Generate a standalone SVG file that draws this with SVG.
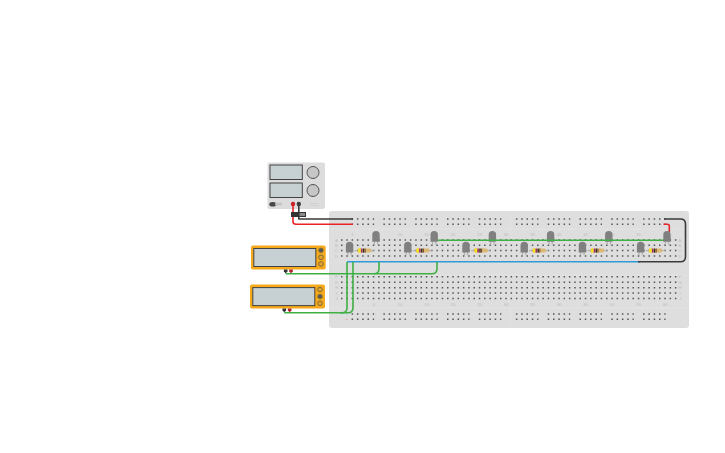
<svg xmlns="http://www.w3.org/2000/svg" width="725" height="453" viewBox="0 0 725 453">
<style>
.holes{fill:none;stroke:#555;stroke-width:1.5;stroke-dasharray:1.5 3.8}
.sep{fill:none;stroke:#e6e6e6;stroke-width:.6}
.lbl{font-family:"Liberation Sans",Arial,sans-serif;font-size:4.2px;fill:#bdbdbd;text-anchor:middle}
.wire{fill:none;stroke-width:1.6;stroke-linejoin:round}
.green{stroke:#3fb044}.black{stroke:#3a3a3a}.red{stroke:#e8232a}.blue{stroke:#2d9bd8}
.screen{fill:#c7d1d3;stroke:#434343;stroke-width:1}
.case{fill:#f6a91b}
.dial{fill:#e3a32c;stroke:#7d6a3a;stroke-width:1}
.dialk{fill:#555;stroke:#8a7436;stroke-width:1}
.knob{fill:#c6c6c6;stroke:#555;stroke-width:1}
.lead{stroke:#9a9a9a;stroke-width:.8;fill:none}
</style>
<defs>
<g id="led">
<path class="lead" d="M-1.600 10v3.500M1.600 10v3.500"/>
<path d="M-3.700 10.700V3.700a3.700 3.700 0 0 1 7.400 0V10.700z" fill="#808080"/>
</g>
<g id="res">
<path d="M-9 0H11" stroke="#a8a8a8" stroke-width=".9"/>
<rect x="-6" y="-2" width="14" height="4" rx="1.800" fill="#dcb877"/>
<rect x="-5.200" y="-2.200" width="2.300" height="4.400" fill="#f4e51c"/>
<rect x="-2.500" y="-2" width="1.400" height="4" fill="#a02a78"/>
<rect x="-.6" y="-2" width="1.400" height="4" fill="#2a2a2a"/>
<rect x="1.200" y="-2" width="1" height="4" fill="#7a4a28"/>
</g>
</defs>

<g id="breadboard">
<rect x="329" y="211" width="360" height="117" rx="3" fill="#dedede"/>
<path class="sep" d="M331 229H687M331 308H687M331 262H687M331 275H687M510.500 213V229M510.500 308V326"/>
<path class="holes" d="M351.600 219h22.500M383.400 219h22.500M415.200 219h22.500M447 219h22.500M478.800 219h22.500M515.900 219h22.500M547.700 219h22.500M579.500 219h22.500M611.300 219h22.500M643.100 219h22.500
M351.600 224.300h22.500M383.400 224.300h22.500M415.200 224.300h22.500M447 224.300h22.500M478.800 224.300h22.500M515.900 224.300h22.500M547.700 224.300h22.500M579.500 224.300h22.500M611.300 224.300h22.500M643.100 224.300h22.500
M351.600 314h22.500M383.400 314h22.500M415.200 314h22.500M447 314h22.500M478.800 314h22.500M515.900 314h22.500M547.700 314h22.500M579.500 314h22.500M611.300 314h22.500M643.100 314h22.500
M351.600 319.300h22.500M383.400 319.300h22.500M415.200 319.300h22.500M447 319.300h22.500M478.800 319.300h22.500M515.900 319.300h22.500M547.700 319.300h22.500M579.500 319.300h22.500M611.300 319.300h22.500M643.100 319.300h22.500
M341 240H677M341 245.200H677M341 250.600H677M341 256H677
M341 276.800H677M341 282.300H677M341 287.700H677M341 293H677M341 298.400H677"/>
<g class="lbl">
<text x="352.500" y="236">1</text><text x="400" y="236">10</text><text x="426.500" y="236">15</text><text x="453" y="236">20</text><text x="479.500" y="236">25</text><text x="506" y="236">30</text><text x="532.500" y="236">35</text><text x="559" y="236">40</text><text x="585.500" y="236">45</text><text x="612" y="236">50</text><text x="638.500" y="236">55</text>
<text x="352.500" y="305.500">1</text><text x="374" y="305.500">5</text><text x="400" y="305.500">10</text><text x="426.500" y="305.500">15</text><text x="453" y="305.500">20</text><text x="479.500" y="305.500">25</text><text x="506" y="305.500">30</text><text x="532.500" y="305.500">35</text><text x="559" y="305.500">40</text><text x="585.500" y="305.500">45</text><text x="612" y="305.500">50</text><text x="638.500" y="305.500">55</text><text x="665" y="305.500">60</text>
<text x="680" y="241.500">A</text><text x="680" y="246.700">B</text><text x="680" y="252.100">C</text><text x="680" y="257.500">D</text>
<text x="680" y="278.300">F</text><text x="680" y="283.800">G</text><text x="680" y="289.200">H</text><text x="680" y="294.500">I</text><text x="680" y="299.900">J</text>
<text x="336.500" y="241.500">A</text><text x="336.500" y="246.700">B</text><text x="336.500" y="252.100">C</text><text x="336.500" y="257.500">D</text>
<text x="336.500" y="278.300">F</text><text x="336.500" y="283.800">G</text><text x="336.500" y="289.200">H</text><text x="336.500" y="294.500">I</text><text x="336.500" y="299.900">J</text>
<text x="346.700" y="321" style="fill:#e5a9a9;font-size:6px">+</text>
<text x="346.700" y="315.500" style="fill:#a9c4e5;font-size:6px">-</text>
</g>
</g>

<g id="power-supply">
<rect x="267.500" y="162.500" width="57.500" height="46.500" rx="2" fill="#dcdcdc"/>
<rect class="screen" x="270" y="165" width="32.300" height="14.500"/>
<rect class="screen" x="270" y="183" width="32.300" height="14.500"/>
<circle class="knob" cx="313" cy="172.500" r="6"/>
<circle class="knob" cx="313" cy="190.500" r="6"/>
<ellipse cx="272.800" cy="204.200" rx="3.500" ry="2.300" fill="#474747"/>
<rect x="275" y="202.800" width="7" height="2.800" rx="1.400" fill="#c2c2c2"/>
<path d="M310 203.500h9M310 205.500h9" stroke="#cfcfcf" stroke-width=".8"/>
<circle cx="293" cy="204" r="2.200" fill="#c8202a"/>
<circle cx="298.800" cy="204" r="2.200" fill="#3c3c3c"/>
</g>

<g id="multimeter-1">
<rect class="case" x="251" y="245.500" width="74.700" height="24" rx="2"/>
<rect class="screen" x="253.800" y="248.500" width="62" height="18"/>
<circle class="dialk" cx="321" cy="250.300" r="2.300"/>
<circle class="dial" cx="321" cy="257.300" r="2.300"/>
<circle class="dial" cx="321" cy="264" r="2.300"/>
<path d="M283.900 269.500h3.600v1.800l-1.800 2.200-1.800-2.200z" fill="#333"/>
<path d="M289.200 269.500h3.600v1.800l-1.800 2.200-1.800-2.200z" fill="#b3262c"/>
</g>
<g id="multimeter-2">
<rect class="case" x="250" y="284.500" width="75" height="24" rx="2"/>
<rect class="screen" x="252.800" y="287.600" width="62" height="18"/>
<circle class="dial" cx="320" cy="289.500" r="2.300"/>
<circle class="dialk" cx="320" cy="296.500" r="2.300"/>
<circle class="dial" cx="320" cy="303.300" r="2.300"/>
<path d="M282.500 308.500h3.600v1.800l-1.800 2.200-1.800-2.200z" fill="#333"/>
<path d="M287.900 308.500h3.600v1.800l-1.800 2.200-1.800-2.200z" fill="#b3262c"/>
</g>

<g id="led-1"><use href="#led" x="349.600" y="241.700"/></g>
<g id="res-1"><use href="#res" x="363.500" y="250.600"/></g>
<g id="led-2"><use href="#led" x="376" y="231"/></g>
<g id="led-3"><use href="#led" x="407.800" y="241.700"/></g>
<g id="res-2"><use href="#res" x="421.700" y="250.600"/></g>
<g id="led-4"><use href="#led" x="434.200" y="231"/></g>
<g id="led-5"><use href="#led" x="466" y="241.700"/></g>
<g id="res-3"><use href="#res" x="479.900" y="250.600"/></g>
<g id="led-6"><use href="#led" x="492.400" y="231"/></g>
<g id="led-7"><use href="#led" x="524.200" y="241.700"/></g>
<g id="res-4"><use href="#res" x="538.100" y="250.600"/></g>
<g id="led-8"><use href="#led" x="550.600" y="231"/></g>
<g id="led-9"><use href="#led" x="582.400" y="241.700"/></g>
<g id="res-5"><use href="#res" x="596.300" y="250.600"/></g>
<g id="led-10"><use href="#led" x="608.800" y="231"/></g>
<g id="led-11"><use href="#led" x="640.600" y="241.700"/></g>
<g id="res-6"><use href="#res" x="654.500" y="250.600"/></g>

<g id="connectors">
<path class="wire red" d="M293 205V221.500Q293 224.300 296 224.300H353"/>
<path class="wire black" d="M298.800 205V219H353"/>
<path class="wire green" d="M438 240.300H664"/>
<path class="wire blue" d="M347 261.700H640"/>
<path class="wire black" d="M638 261.700H680.500Q685.500 261.700 685.500 256.700V224Q685.500 219 680.500 219H664"/>
<path class="wire red" d="M663.500 224.300H667.500Q669.300 224.300 669.300 226V232"/>
<path class="wire green" d="M285.700 273.800H374Q379 273.800 379 268.800V262"/>
<path class="wire green" d="M374 273.800H432Q437 273.800 437 268.800V262"/>
<path class="wire green" d="M284.300 312.700H342Q347 312.700 347 307.700V262"/>
<path class="wire green" d="M340 312.700H348Q353 312.700 353 307.700V262"/>
</g>
<g id="terminal-block">
<rect x="291" y="212" width="15" height="5" fill="#333"/>
<rect x="299.500" y="213" width="5.500" height="3" fill="#8a8a8a"/>
</g>
<g id="led-12"><use href="#led" x="667" y="231"/></g>
</svg>
